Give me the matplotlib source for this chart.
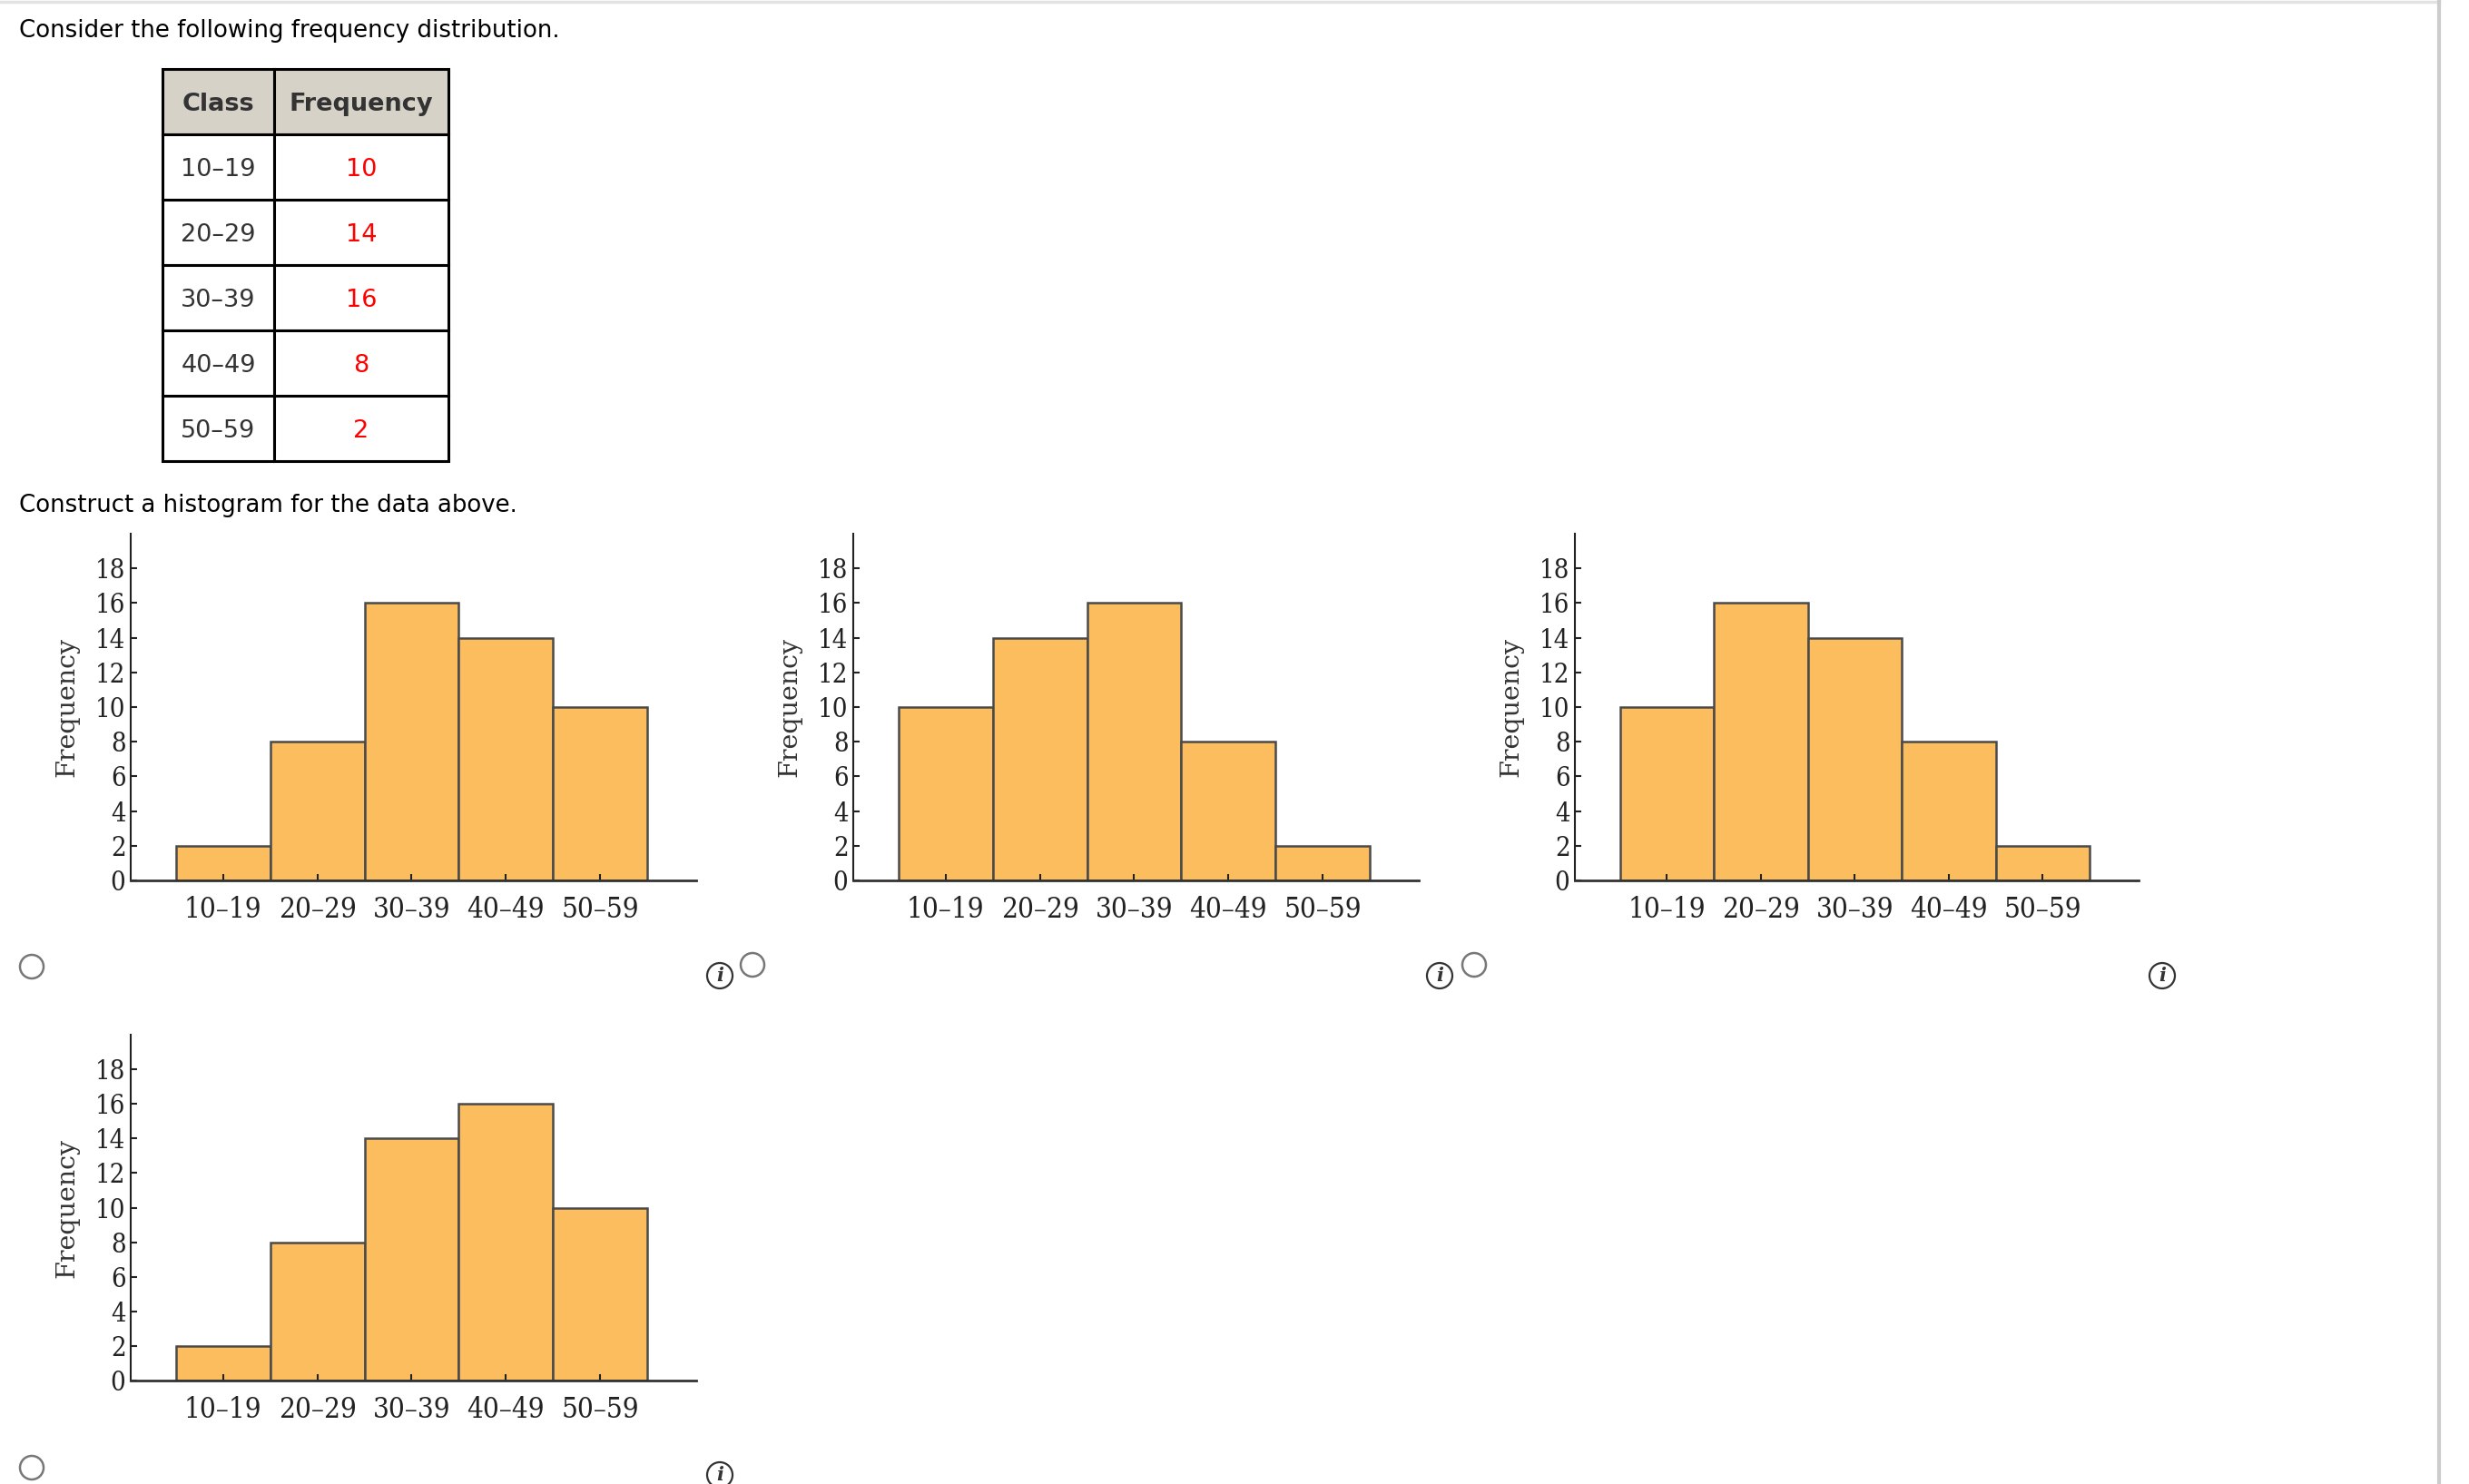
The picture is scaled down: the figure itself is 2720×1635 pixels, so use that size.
import matplotlib
matplotlib.use("Agg")
import matplotlib.pyplot as plt
from matplotlib.patches import Circle

W, H = 2720, 1635

# the frequency table
classes = ["10\u201319", "20\u201329", "30\u201339", "40\u201349", "50\u201359"]
table_freq = [10, 14, 16, 8, 2]

# the four answer choices
freq_a = [2, 8, 16, 14, 10]
freq_b = [10, 14, 16, 8, 2]
freq_c = [10, 16, 14, 8, 2]
freq_d = [2, 8, 14, 16, 10]
y_ticks = [0, 2, 4, 6, 8, 10, 12, 14, 16, 18]


def px_axes(fig, x0, y0, x1, y1):
    # rectangle given in image pixels, y going down
    return fig.add_axes([x0 / W, 1 - y1 / H, (x1 - x0) / W, (y1 - y0) / H])


def histogram(fig, rect, values):
    ax = px_axes(fig, *rect)
    ax.bar(range(1, 6), values, width=1, color="#fcbd5e", edgecolor="#4a4a4a", linewidth=1.8)
    ax.set_xlim(0.02, 6.02)
    ax.set_ylim(0, 20)
    ax.set_xticks(range(1, 6))
    ax.set_xticklabels(classes)
    ax.set_yticks(y_ticks)
    ax.tick_params(direction="in", length=5, width=1.5, color="#222222", labelcolor="#222222",
                   labelsize=21, pad=4)
    ax.tick_params(axis="x", pad=12, labelsize=22.5)
    ax.spines["top"].set_visible(False)
    ax.spines["right"].set_visible(False)
    ax.spines["left"].set_linewidth(1.5)
    ax.spines["bottom"].set_linewidth(2)
    ax.spines["left"].set_color("#222222")
    ax.spines["bottom"].set_color("#333333")
    for t in ax.get_xticklabels() + ax.get_yticklabels():
        t.set_family("DejaVu Serif")
        t.set_stretch("condensed")
    ax.set_ylabel("Frequency", family="DejaVu Serif", fontsize=20.5, color="#333333", labelpad=13)
    ax.patch.set_alpha(0)
    return ax


fig = plt.figure(figsize=(W / 100, H / 100), dpi=100, facecolor="white")

page = fig.add_axes([0, 0, 1, 1])
page.set_xlim(0, W)
page.set_ylim(H, 0)
page.axis("off")

# page edges
page.plot([0, 2687], [2, 2], color="#e2e2e2", lw=2.5)
page.plot([2687, 2687], [0, H], color="#cccccc", lw=3)

page.text(21, 34, "Consider the following frequency distribution.", fontsize=18.75, color="black",
          va="center", family="DejaVu Sans")
page.text(21, 557, "Construct a histogram for the data above.", fontsize=18.75, color="black",
          va="center", family="DejaVu Sans")

# table
tab_ax = px_axes(fig, 179, 76, 494, 508)
tab_ax.axis("off")
cells = [[c, str(f)] for c, f in zip(classes, table_freq)]
tab = tab_ax.table(cellText=cells, colLabels=["Class", "Frequency"], cellLoc="center",
                   bbox=[0, 0, 1, 1], colWidths=[123 / 315, 192 / 315])
tab.auto_set_font_size(False)
for (r, c), cell in tab.get_celld().items():
    cell.set_linewidth(2.2)
    cell.set_edgecolor("black")
    cell.get_text().set_fontsize(19.5)
    cell.get_text().set_color("#333333")
    cell.get_text().set_verticalalignment("center_baseline")
    if r == 0:
        cell.set_facecolor("#d6d2c8")
        cell.get_text().set_fontweight("bold")
    elif c == 1:
        cell.get_text().set_color("#ff0000")

histogram(fig, (144, 588, 767, 970), freq_a)
histogram(fig, (940, 588, 1563, 970), freq_b)
histogram(fig, (1735, 588, 2356, 970), freq_c)
histogram(fig, (144, 1140, 767, 1521), freq_d)

# radio buttons and info icons
for x, y in [(35, 1065), (829, 1063), (1624, 1063), (35, 1617)]:
    page.add_patch(Circle((x, y), 13, fill=False, edgecolor="#777777", lw=1.8))
for x, y in [(793, 1075), (1586, 1075), (2382, 1075), (793, 1625)]:
    page.add_patch(Circle((x, y), 14, fill=False, edgecolor="#333333", lw=1.6))
    page.text(x, y, "i", family="DejaVu Serif", style="italic", fontweight="bold", fontsize=15,
              color="#333333", ha="center", va="center")

fig.savefig("out.png", dpi=100)
